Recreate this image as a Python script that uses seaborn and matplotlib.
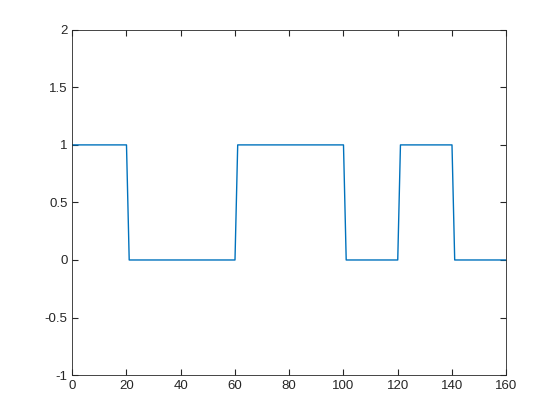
import matplotlib
matplotlib.use("Agg")
import matplotlib.pyplot as plt
import seaborn as sns
import pandas as pd

# Step signal corners (sample index, level)
x_vals = [0, 20, 21, 60, 61, 100, 101, 120, 121, 140, 141, 160]
y_vals = [1, 1, 0, 0, 1, 1, 0, 0, 1, 1, 0, 0]

df = pd.DataFrame({"x": x_vals, "y": y_vals})

sns.set_style("white")
plt.rcParams['font.family'] = ['Liberation Sans', 'DejaVu Sans']

fig = plt.figure(figsize=(5.6, 4.2), dpi=100)
ax = fig.add_axes([0.129, 0.107, 0.775, 0.822])
sns.lineplot(data=df, x="x", y="y", ax=ax, color="#0072BD", lw=1, sort=False)

ax.set_xlim(0, 160)
ax.set_ylim(-1, 2)
ax.set_xticks(range(0, 161, 20))
ax.set_yticks([-1, -0.5, 0, 0.5, 1, 1.5, 2])
ax.set_yticklabels(["-1", "-0.5", "0", "0.5", "1", "1.5", "2"])
ax.set_xlabel("")
ax.set_ylabel("")
ax.tick_params(direction="in", length=4, labelsize=9.5, colors="#262626",
               top=True, right=True, bottom=True, left=True)
for s in ax.spines.values():
    s.set_color("#262626")
    s.set_linewidth(0.6)

fig.savefig("out.png", dpi=100)
